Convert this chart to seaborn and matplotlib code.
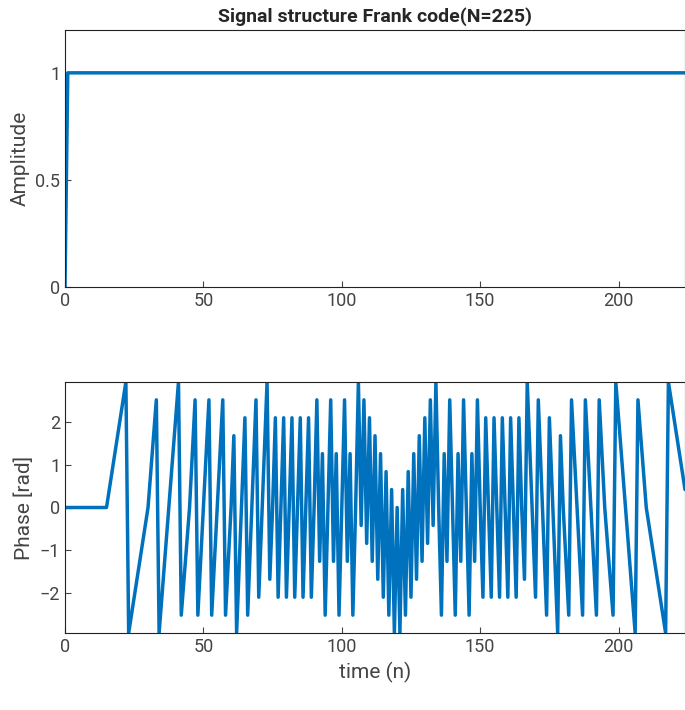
import numpy as np
import pandas as pd
import seaborn as sns
import matplotlib
matplotlib.use("Agg")
import matplotlib.pyplot as plt

sns.set_style("white")
plt.rcParams['font.family'] = ['Roboto', 'DejaVu Sans']

M = 15
# Frank code phase indices (units of 2*pi/15), wrapped to -7..7, one row per group
phase_rows = [
    [0, 0, 0, 0, 0, 0, 0, 0, 0, 0, 0, 0, 0, 0, 0],
    [0, 1, 2, 3, 4, 5, 6, 7, -7, -6, -5, -4, -3, -2, -1],
    [0, 2, 4, 6, -7, -5, -3, -1, 1, 3, 5, 7, -6, -4, -2],
    [0, 3, 6, -6, -3, 0, 3, 6, -6, -3, 0, 3, 6, -6, -3],
    [0, 4, -7, -3, 1, 5, -6, -2, 2, 6, -5, -1, 3, 7, -4],
    [0, 5, -5, 0, 5, -5, 0, 5, -5, 0, 5, -5, 0, 5, -5],
    [0, 6, -3, 3, -6, 0, 6, -3, 3, -6, 0, 6, -3, 3, -6],
    [0, 7, -1, 6, -2, 5, -3, 4, -4, 3, -5, 2, -6, 1, -7],
    [0, -7, 1, -6, 2, -5, 3, -4, 4, -3, 5, -2, 6, -1, 7],
    [0, -6, 3, -3, 6, 0, -6, 3, -3, 6, 0, -6, 3, -3, 6],
    [0, -5, 5, 0, -5, 5, 0, -5, 5, 0, -5, 5, 0, -5, 5],
    [0, -4, 7, 3, -1, -5, 6, 2, -2, -6, 5, 1, -3, -7, 4],
    [0, -3, -6, 6, 3, 0, -3, -6, 6, 3, 0, -3, -6, 6, 3],
    [0, -2, -4, -6, 7, 5, 3, 1, -1, -3, -5, -7, 6, 4, 2],
    [0, -1, -2, -3, -4, -5, -6, -7, 7, 6, 5, 4, 3, 2, 1],
]
phase_idx = [v for row in phase_rows for v in row]
phase = np.array(phase_idx) * 2 * np.pi / M
time = np.arange(len(phase))
amplitude = [0] + [1] * (len(phase) - 1)

df = pd.DataFrame({"time": time, "phase": phase, "amp": amplitude})

color = "#0072BD"
grey = "#444444"
fig = plt.figure(figsize=(6.85, 7.1), dpi=100)
ax1 = fig.add_axes([65/685, 1-287/710, 620/685, 257/710])
ax2 = fig.add_axes([65/685, 1-633/710, 620/685, 251/710])

sns.lineplot(data=df, x="time", y="amp", ax=ax1, color=color, lw=2.5)
sns.lineplot(data=df, x="time", y="phase", ax=ax2, color=color, lw=2.5)

ax1.set_xlim(0, 224); ax1.set_ylim(0, 1.2)
ax1.set_yticks([0, 0.5, 1]); ax1.set_yticklabels(["0", "0.5", "1"])
ax1.set_xticks([0, 50, 100, 150, 200])
ax1.set_xlabel(""); ax1.set_ylabel("Amplitude", fontsize=15, color=grey)
ax1.set_title("Signal structure Frank code(N=225)", fontsize=14, fontweight="bold")

ax2.set_xlim(0, 224); ax2.set_ylim(-2.93, 2.93)
ax2.set_yticks([-2, -1, 0, 1, 2])
ax2.set_xticks([0, 50, 100, 150, 200])
ax2.set_xlabel("time (n)", fontsize=15, color=grey)
ax2.set_ylabel("Phase [rad]", fontsize=15, color=grey)

for ax in (ax1, ax2):
    ax.tick_params(labelsize=13, colors=grey, direction="in", length=4, left=True, bottom=True)
    for s in ax.spines.values():
        s.set_color("#222222"); s.set_linewidth(0.8)

fig.savefig("out.png", dpi=100)
